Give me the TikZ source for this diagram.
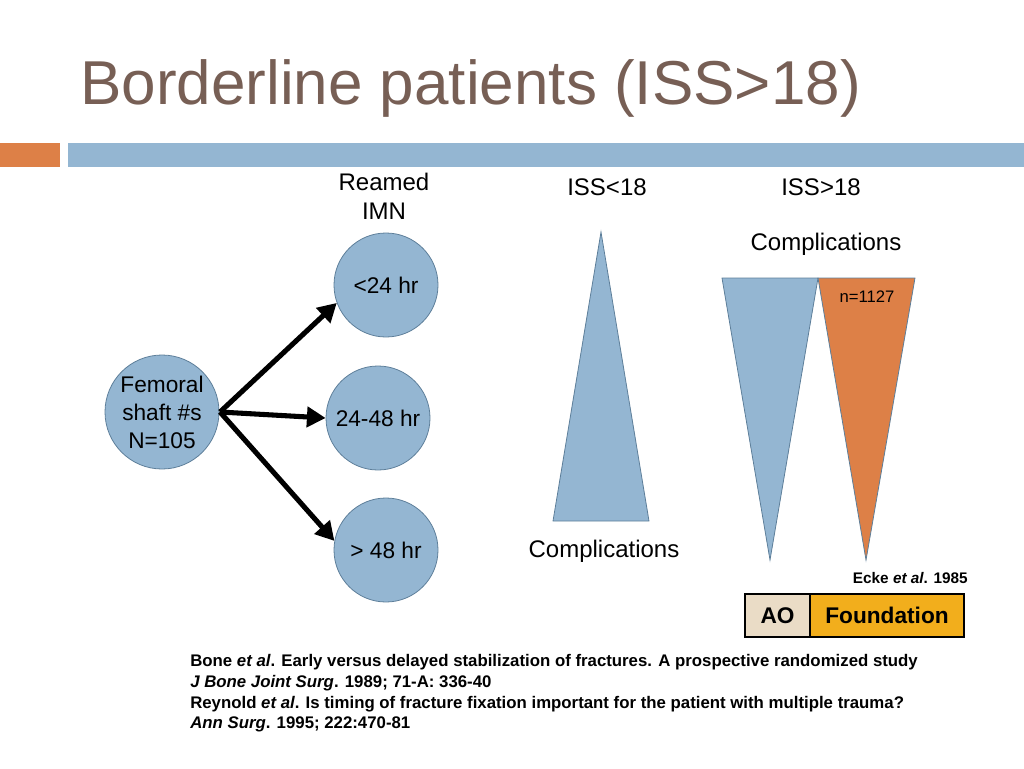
\documentclass[tikz,border=0pt]{standalone}
\usepackage{fontspec}
\setmainfont{Liberation Sans}
\usetikzlibrary{arrows.meta}
\definecolor{bl}{HTML}{94B6D2}
\definecolor{bld}{HTML}{5E7F9A}
\definecolor{org}{HTML}{DD8047}
\definecolor{tit}{HTML}{775F55}
\definecolor{aoc}{HTML}{EADCC6}
\definecolor{fdc}{HTML}{F2AE1C}
\begin{document}
\begin{tikzpicture}[x=0.75pt,y=-0.75pt,
  circ/.style={circle,fill=bl,draw=bld,line width=0.6pt,minimum size=104*0.75pt,inner sep=0pt,align=center,font=\fontsize{17}{21}\selectfont},
  lbl/.style={font=\fontsize{18}{22}\selectfont,align=center},
  arr/.style={line width=3.8pt,-{Triangle[length=14pt,width=15pt]}},
  tri/.style={draw=bld,line width=0.6pt},
  ref/.style={anchor=west,font=\bfseries\fontsize{12.6}{14}\selectfont,inner sep=0pt}]
\useasboundingbox (0,0) rectangle (1024,768);
\node[anchor=base west,text=tit,font=\fontsize{46.5}{50}\selectfont,inner sep=0pt] (title) at (80,104) {Borderline patients (ISS>18)};
\fill[org] (0,143) rectangle (60,167);
\fill[bl] (68,143) rectangle (1024,167);
\node[circ,minimum size=114*0.75pt] (fem) at (162,412) {Femoral\\shaft \#s\\N=105};
\node[circ] (c1) at (386,285) {<24 hr};
\node[circ] (c2) at (378,418) {24-48 hr};
\node[circ] (c3) at (386,550) {> 48 hr};
\coordinate (src) at (220,412);
\draw[arr] (src) -- (c1.200);
\draw[arr] (src) -- (c2.west);
\draw[arr] (src) -- (c3.170);
\node[lbl] (ream) at (384,196) {Reamed\\IMN};
\node[lbl] (iss1) at (607,187) {ISS<18};
\node[lbl] (iss2) at (821,187) {ISS>18};
\node[lbl] (comp2) at (826,244) {Complications};
\node[lbl] (comp1) at (604,551) {Complications};
\draw[tri,fill=bl] (601,232) -- (649,521) -- (553,521) -- cycle;
\draw[tri,fill=bl] (722,278) -- (818,278) -- (770,560) -- cycle;
\draw[tri,fill=org] (818,278) -- (915,278) -- (866,560) -- cycle;
\node[font=\fontsize{12.5}{14}\selectfont] (n) at (867,297) {n=1127};
\node[anchor=east,font=\bfseries\fontsize{11.5}{13}\selectfont,inner sep=0pt] (ecke) at (968,578) {Ecke \textit{et al}. 1985};
\draw[fill=aoc,line width=1.6pt] (745,594) rectangle (810,637);
\draw[fill=fdc,line width=1.6pt] (810,594) rectangle (964,637);
\node[font=\bfseries\fontsize{17}{20}\selectfont] (ao) at (777.5,615.5) {AO};
\node[font=\bfseries\fontsize{17}{20}\selectfont] (fd) at (887,615.5) {Foundation};
\node[ref] (r1) at (190,662) {Bone \textit{et al}. Early versus delayed stabilization of fractures. A prospective randomized study};
\node[ref] (r2) at (190,683) {\textit{J Bone Joint Surg}. 1989; 71-A: 336-40};
\node[ref] (r3) at (190,704) {Reynold \textit{et al}. Is timing of fracture fixation important for the patient with multiple trauma?};
\node[ref] (r4) at (190,724) {\textit{Ann Surg}. 1995; 222:470-81};
\end{tikzpicture}
\end{document}
